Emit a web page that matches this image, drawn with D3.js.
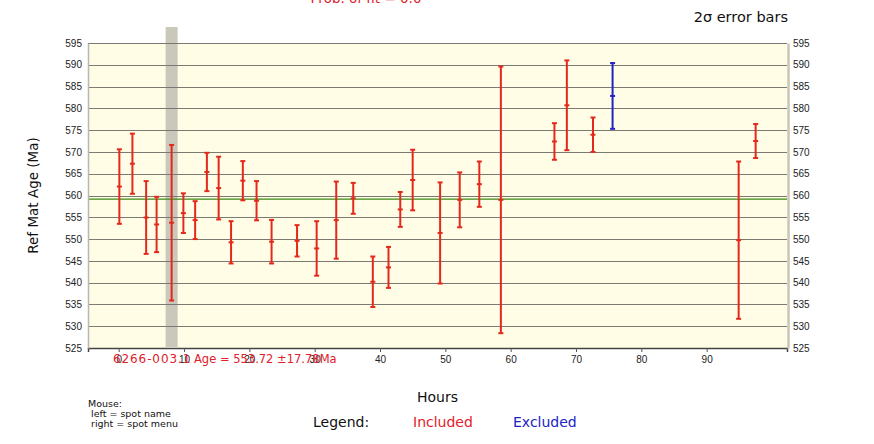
<!DOCTYPE html>
<html lang="en">
<head>
	<meta charset="UTF-8">
	<title>Ref Mat Age vs Hours</title>
	<script src="https://d3js.org/d3.v7.min.js"></script>
	<style>
		body {
			margin: 0;
			background: #ffffff;
			font-family: "DejaVu Sans", sans-serif;
		}
		.grid line {
			stroke: #7a7a72;
			stroke-width: 1;
		}
		.axis text {
			font-size: 10px;
			fill: #222;
		}
	</style>
</head>
<body>
	<div id="chart"></div>
	<script>
		// spot data (2 sigma error bars)
		const hours = [0.1, 2.1, 4.2, 5.8, 8.1, 9.9, 11.7, 13.5, 15.3, 17.2, 19.0, 21.1, 23.4, 27.3, 30.3, 33.3,
			35.9, 38.9, 41.3, 43.1, 45.0, 49.2, 52.2, 55.2, 58.5, 66.7, 68.6, 72.6, 75.6, 94.9, 97.5];
		const ages = [562.05, 567.3, 554.95, 553.35, 553.75, 555.95, 554.35, 565.4, 561.7, 549.25, 563.4, 558.8,
			549.4, 549.6, 547.85, 554.35, 559.35, 540.2, 543.5, 556.8, 563.55, 551.4, 559.0, 562.6, 559.0,
			572.4, 580.7, 573.95, 582.85, 549.75, 572.5];
		const errs = [8.55, 6.9, 8.35, 6.35, 17.85, 4.55, 4.35, 4.4, 7.2, 4.85, 4.5, 4.5, 5.0, 3.6, 6.25, 8.85,
			3.55, 5.8, 4.7, 4.0, 6.95, 11.6, 6.3, 5.2, 30.6, 4.2, 10.3, 3.95, 7.55, 18.05, 3.9];
		const excluded = [28];
		const selectedSpot = 4;
		const selectedName = "6266-003.1";
		const selectedText = "Age = 553.72 ±17.78Ma";
		const meanAge = 559.15;

		const xTicks = [0, 10, 20, 30, 40, 50, 60, 70, 80, 90];
		const yTicks = d3.range(525, 596, 5);

		const width = 874, height = 444;
		const margin = { top: 43, right: 87, bottom: 96, left: 88 };

		const svg = d3.select("#chart").append("svg")
			.attr("width", width)
			.attr("height", height);

		const x = d3.scaleLinear().domain([-4.7, 102.3]).range([margin.left, width - margin.right]);
		const y = d3.scaleLinear().domain([525, 595]).range([height - margin.bottom, margin.top]);

		// plot background
		svg.append("rect")
			.attr("x", x.range()[0]).attr("y", y.range()[1])
			.attr("width", x.range()[1] - x.range()[0])
			.attr("height", y.range()[0] - y.range()[1])
			.attr("fill", "#fffde6");

		// highlight band of the selected spot
		svg.append("rect")
			.attr("x", x(hours[selectedSpot]) - 6)
			.attr("y", 27)
			.attr("width", 12)
			.attr("height", y(525) - 1 - 27)
			.attr("fill", "#c9c8ba");

		// gridlines
		svg.append("g").attr("class", "grid")
			.selectAll("line")
			.data(yTicks)
			.enter().append("line")
			.attr("x1", x.range()[0]).attr("x2", x.range()[1])
			.attr("y1", d => Math.round(y(d)) + 0.5)
			.attr("y2", d => Math.round(y(d)) + 0.5);

		// mean line
		svg.append("line")
			.attr("x1", x.range()[0]).attr("x2", x.range()[1])
			.attr("y1", y(meanAge)).attr("y2", y(meanAge))
			.attr("stroke", "#3a8a10")
			.attr("stroke-width", 1.2);

		// axes
		const xAxis = svg.append("g").attr("class", "axis")
			.attr("transform", `translate(0,${y(525)})`)
			.call(d3.axisBottom(x).tickValues(xTicks).tickSize(4).tickPadding(4).tickFormat(d3.format("d")));
		xAxis.select(".domain").attr("stroke", "#444").attr("stroke-width", 1.5);
		xAxis.selectAll(".tick line").attr("stroke", "#555");

		const yAxisL = svg.append("g").attr("class", "axis")
			.attr("transform", `translate(${x.range()[0]},0)`)
			.call(d3.axisLeft(y).tickValues(yTicks).tickSize(0).tickPadding(6));
		yAxisL.select(".domain").attr("stroke", "#b8b8b0").attr("stroke-width", 1.5);

		const yAxisR = svg.append("g").attr("class", "axis")
			.attr("transform", `translate(${x.range()[1] + 1},0)`)
			.call(d3.axisRight(y).tickValues(yTicks).tickSize(0).tickPadding(5));
		yAxisR.select(".domain").attr("stroke", "#c8c6b4").attr("stroke-width", 2.5);

		// error bars
		const spots = hours.map((h, i) => ({ h: h, age: ages[i], err: errs[i], inc: !excluded.includes(i) }));
		const bars = svg.append("g").selectAll("g")
			.data(spots)
			.enter().append("g")
			.attr("stroke", d => d.inc ? "#e4281c" : "#2222c4");

		bars.append("line")
			.attr("x1", d => x(d.h)).attr("x2", d => x(d.h))
			.attr("y1", d => y(d.age + d.err)).attr("y2", d => y(d.age - d.err))
			.attr("stroke-width", 2);
		[1, 0, -1].forEach(k => {
			bars.append("line")
				.attr("x1", d => x(d.h) - 2.5).attr("x2", d => x(d.h) + 2.5)
				.attr("y1", d => y(d.age + k * d.err)).attr("y2", d => y(d.age + k * d.err))
				.attr("stroke-width", 2);
		});

		// texts
		svg.append("text")
			.attr("x", 366).attr("y", 3)
			.attr("text-anchor", "middle")
			.style("font-size", "13.5px").style("fill", "#e0202a")
			.text("Prob. of fit = 0.0");

		svg.append("text")
			.attr("x", 788).attr("y", 22)
			.attr("text-anchor", "end")
			.style("font-size", "14.5px").style("fill", "#111")
			.text("2σ error bars");

		svg.append("text")
			.attr("transform", `translate(38,${(y.range()[0] + y.range()[1]) / 2}) rotate(-90)`)
			.attr("text-anchor", "middle")
			.style("font-size", "13.5px").style("fill", "#111")
			.text("Ref Mat Age (Ma)");

		svg.append("text")
			.attr("x", (x.range()[0] + x.range()[1]) / 2).attr("y", 402)
			.attr("text-anchor", "middle")
			.style("font-size", "14px").style("fill", "#111")
			.text("Hours");

		svg.append("text")
			.attr("x", 113).attr("y", 363)
			.style("font-size", "12px").style("letter-spacing", "0.9px").style("fill", "#e0202a")
			.text(selectedName);
		svg.append("text")
			.attr("x", 194).attr("y", 363)
			.style("font-size", "11.5px").style("fill", "#e0202a")
			.text(selectedText);

		const mouse = svg.append("text")
			.style("font-size", "9.5px").style("fill", "#111");
		mouse.append("tspan").attr("x", 88).attr("y", 407).text("Mouse:");
		mouse.append("tspan").attr("x", 91).attr("y", 417).text("left = spot name");
		mouse.append("tspan").attr("x", 91).attr("y", 426.5).text("right = spot menu");

		const legendItems = [
			{ label: "Legend:", x: 313, color: "#111" },
			{ label: "Included", x: 413, color: "#e4202a" },
			{ label: "Excluded", x: 513, color: "#2222c4" }
		];
		svg.append("g").selectAll("text")
			.data(legendItems)
			.enter().append("text")
			.attr("x", d => d.x).attr("y", 427)
			.style("font-size", "14px")
			.style("fill", d => d.color)
			.text(d => d.label);
	</script>
</body>
</html>
